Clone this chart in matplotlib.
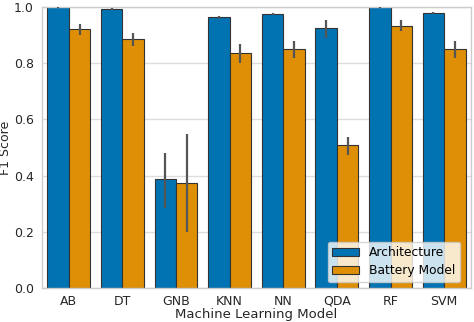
import numpy as np
import matplotlib
matplotlib.use('Agg')
import matplotlib.pyplot as plt

# ── Data ──────────────────────────────────────────────────────────────────
models = ["AB", "DT", "GNB", "KNN", "NN", "QDA", "RF", "SVM"]

arch_mean = [0.999, 0.993, 0.388, 0.964, 0.975, 0.925, 0.999, 0.979]
arch_lo   = [0.998, 0.990, 0.285, 0.959, 0.972, 0.889, 0.998, 0.974]
arch_hi   = [1.000, 0.996, 0.480, 0.969, 0.978, 0.954, 1.000, 0.984]

batt_mean = [0.922, 0.886, 0.374, 0.836, 0.851, 0.509, 0.932, 0.851]
batt_lo   = [0.900, 0.862, 0.199, 0.800, 0.819, 0.473, 0.915, 0.820]
batt_hi   = [0.941, 0.909, 0.548, 0.870, 0.879, 0.537, 0.954, 0.879]

series_names = ["Architecture", "Battery Model"]
colors = ["#0173b2", "#de8f05"]

# ── Plot ──────────────────────────────────────────────────────────────────
fig = plt.figure(figsize=(4.74, 3.22), dpi=100)
ax = fig.add_axes([0.0886, 0.106, 0.905, 0.872])

x = np.arange(len(models))
w = 0.4
for k, (mean, lo, hi) in enumerate([(arch_mean, arch_lo, arch_hi),
                                    (batt_mean, batt_lo, batt_hi)]):
    mean = np.array(mean)
    err = np.vstack([mean - np.array(lo), np.array(hi) - mean])
    pos = x + (k - 0.5) * w
    ax.bar(pos, mean, width=w, color=colors[k], edgecolor="#333333",
           linewidth=0.8, label=series_names[k], zorder=2)
    ax.errorbar(pos, mean, yerr=err, fmt="none", ecolor="#555555",
                elinewidth=1.6, capsize=0, zorder=3)

ax.set_xlim(-0.5, len(models) - 0.5)
ax.set_ylim(0, 1.0)
ax.set_xticks(x)
ax.set_xticklabels(models)
ax.set_yticks([0.0, 0.2, 0.4, 0.6, 0.8, 1.0])
ax.tick_params(axis="both", labelsize=9, length=0, colors="#262626")
ax.tick_params(axis="x", pad=5)
ax.tick_params(axis="y", pad=6)
ax.set_xlabel("Machine Learning Model", fontsize=9.5, color="#262626", labelpad=0)
ax.set_ylabel("F1 Score", fontsize=9, color="#262626", labelpad=1)

ax.yaxis.grid(True, color="#dddddd", linewidth=1.0, zorder=0)
ax.set_axisbelow(True)
for s in ax.spines.values():
    s.set_color("#cccccc")
    s.set_linewidth(1.0)

leg = ax.legend(loc="lower right", fontsize=8.8, frameon=True, fancybox=True,
                bbox_to_anchor=(0.975, 0.02), borderaxespad=0.0,
                handlelength=2.2, labelspacing=0.4)
leg.get_frame().set_edgecolor("#cccccc")

plt.savefig("out.png", dpi=100)
plt.close()
